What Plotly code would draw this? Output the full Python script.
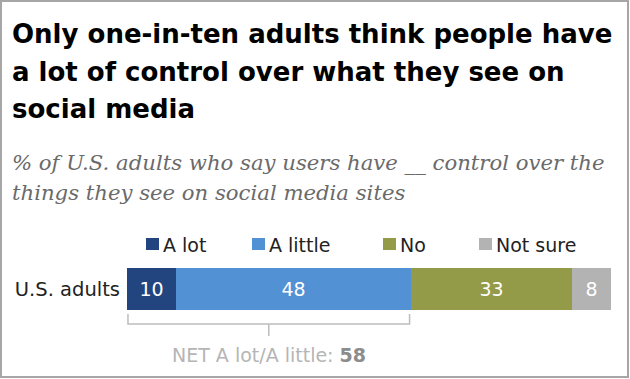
import plotly.graph_objects as go

# ---- data ----
group_labels = ["U.S. adults"]
categories = ["A lot", "A little", "No", "Not sure"]
values = [10, 48, 33, 8]
colors = ["#22457f", "#5391d5", "#939b48", "#b3b3b3"]
title_lines = ["Only one-in-ten adults think people have",
               "a lot of control over what they see on",
               "social media"]
subtitle_lines = ["% of U.S. adults who say users have __ control over the",
                  "things they see on social media sites"]
net_label = "NET A lot/A little: "
net_value = values[0] + values[1]

W, H = 630, 379
L, R, T, B = 127, 19, 268, 69
PW, PH = W - L - R, H - T - B


def px(p):
    return (p - L) / PW


def py(p):
    return (H - B - p) / PH


SANS = "DejaVu Sans"
fig = go.Figure()
for cat, val, col in zip(categories, values, colors):
    fig.add_trace(go.Bar(
        y=group_labels, x=[val], name=cat, orientation="h",
        marker=dict(color=col, line=dict(width=0)),
        text=[str(val)], textposition="inside", insidetextanchor="middle",
        textfont=dict(family=SANS, size=19, color="white"),
        showlegend=False, hoverinfo="skip",
    ))

annotations = []
shapes = []

# title
for i, line in enumerate(title_lines):
    annotations.append(dict(
        text=line, xref="paper", yref="paper", x=px(10), y=py(34 + 37.5 * i),
        xanchor="left", yanchor="middle", showarrow=False,
        font=dict(family=SANS, size=26, color="#000000", weight="bold")))
# subtitle
for i, line in enumerate(subtitle_lines):
    annotations.append(dict(
        text=line, xref="paper", yref="paper", x=px(10), y=py(162 + 30 * i),
        xanchor="left", yanchor="middle", showarrow=False,
        font=dict(family="DejaVu Serif", size=21.2, color="#6a6a6a", style="italic")))

# legend
legend_x = [146, 252, 383, 479]
for cat, col, lx in zip(categories, colors, legend_x):
    shapes.append(dict(type="rect", xref="paper", yref="paper",
                       x0=px(lx), x1=px(lx + 13), y0=py(250), y1=py(238),
                       fillcolor=col, line=dict(width=0)))
    annotations.append(dict(
        text=cat, xref="paper", yref="paper", x=px(lx + 15), y=py(244.5),
        xanchor="left", yanchor="middle", showarrow=False,
        font=dict(family=SANS, size=19, color="#222222")))

# bracket for NET
bc = "#bdbdbd"
shapes.append(dict(type="path", xref="x", yref="paper",
                   path=f"M 0.2,{py(314)} L 0.2,{py(324)} L {net_value - 0.2},{py(324)} L {net_value - 0.2},{py(314)}",
                   line=dict(color=bc, width=1.5)))
shapes.append(dict(type="line", xref="x", yref="paper",
                   x0=net_value / 2, x1=net_value / 2, y0=py(324), y1=py(336),
                   line=dict(color=bc, width=1.5)))
annotations.append(dict(
    text=f"<span style='color:#b5b5b5'>{net_label}</span><b style='color:#8c8c8c'>{net_value}</b>",
    xref="x", yref="paper", x=net_value / 2, y=py(355), xanchor="center", yanchor="middle",
    showarrow=False, font=dict(family=SANS, size=19, color="#b5b5b5")))

# frame
shapes.append(dict(type="rect", xref="paper", yref="paper",
                   x0=px(1), x1=px(W - 2), y0=py(H - 2), y1=py(1),
                   line=dict(color="#a6a6a6", width=2), fillcolor="rgba(0,0,0,0)"))

fig.update_layout(
    width=W, height=H, margin=dict(l=L, r=R, t=T, b=B),
    barmode="stack", bargap=0,
    paper_bgcolor="white", plot_bgcolor="white",
    xaxis=dict(range=[0, sum(values)], visible=False, fixedrange=True),
    yaxis=dict(type="category", range=[-0.5, 0.5], showgrid=False, zeroline=False,
               showline=False, ticks="", ticklabelstandoff=6, fixedrange=True,
               tickfont=dict(family=SANS, size=19.5, color="#222222")),
    annotations=annotations, shapes=shapes, showlegend=False,
)
fig.write_html("out.html", config={"displayModeBar": False},
               post_script="document.body.style.margin='0px';")
